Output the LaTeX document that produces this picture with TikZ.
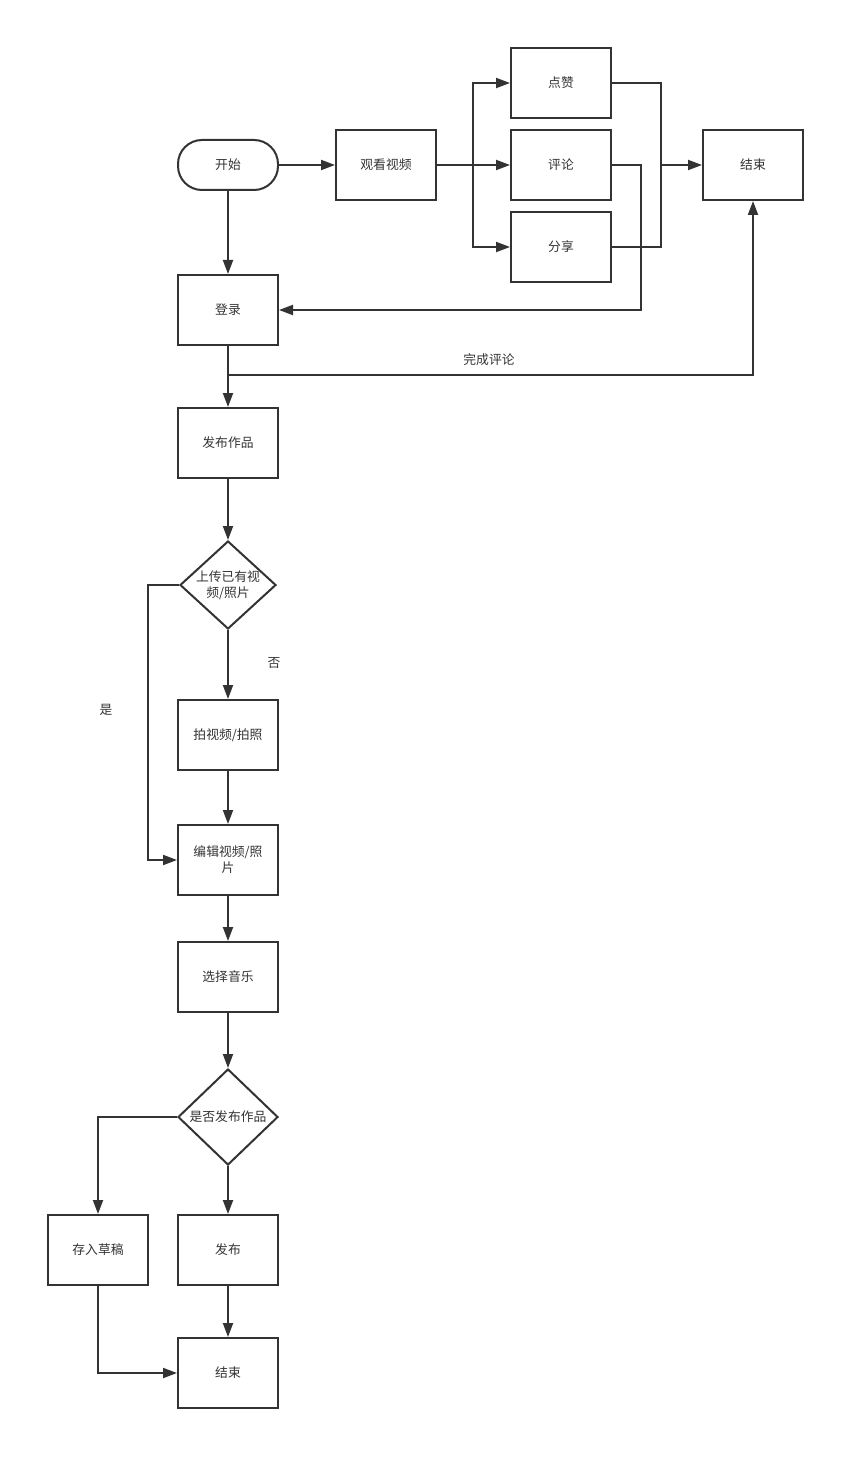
\documentclass[tikz,border=0pt]{standalone}
\usepackage{fontspec}
\setmainfont{Noto Sans CJK SC}
\usetikzlibrary{shapes.geometric,arrows.meta}
\definecolor{ink}{HTML}{333333}

\begin{document}
\begin{tikzpicture}[x=0.75pt,y=-0.75pt,>={Triangle[length=10.5pt,width=7.5pt]},
  color=ink,line width=1.5pt,
  every node/.style={font=\fontsize{9.6}{12}\selectfont,align=center},
  box/.style={draw,rectangle,minimum width=75pt,minimum height=52.5pt,inner sep=1pt},
  pill/.style={draw,rectangle,rounded corners=18pt,minimum width=75pt,minimum height=37.5pt},
  choice/.style={draw,diamond,inner sep=-3pt,aspect=1}]
  \useasboundingbox (0,0) rectangle (865,1469);

  % Noder
  \node[pill] (start) at (228,165) {开始};
  \node[box] (watch) at (386,165) {观看视频};
  \node[box] (like) at (561,83) {点赞};
  \node[box] (comment) at (561,165) {评论};
  \node[box] (share) at (561,247) {分享};
  \node[box] (end1) at (753,165) {结束};
  \node[box] (login) at (228,310) {登录};
  \node[box] (publish) at (228,443) {发布作品};
  \node[choice,minimum width=72pt,minimum height=66pt] (upload) at (228,585) {上传已有视\\频/照片};
  \node[box] (shoot) at (228,735) {拍视频/拍照};
  \node[box] (edit) at (228,860) {编辑视频/照\\片};
  \node[box] (music) at (228,977) {选择音乐};
  \node[choice,minimum width=75pt,minimum height=72pt] (ask) at (228,1117) {是否发布作品};
  \node[box] (draft) at (98,1250) {存入草稿};
  \node[box] (post) at (228,1250) {发布};
  \node[box] (end2) at (228,1373) {结束};

  % Hjelpepunkter
  \coordinate (fork) at (473,165);
  \coordinate (merge) at (661,165);
  \coordinate (back) at (641,310);
  \coordinate (done) at (228,375);
  \coordinate (yes) at (148,860);

  % Piler
  \draw[->] (start) -- (watch);
  \draw[->] (start) -- (login);
  \draw[->] (watch) -- (comment);
  \draw[->] (fork) |- (like);
  \draw[->] (fork) |- (share);
  \draw (like) -| (merge);
  \draw (share) -| (merge);
  \draw[->] (merge) -- (end1);
  \draw[->] (comment.east) -| (back) -- (login);
  \draw[->] (login) -- (publish);
  \draw[->] (done) -| (end1);
  \node (donelbl) at (489,360) {完成评论};
  \draw[->] (publish) -- (upload);
  \draw[->] (upload) -- (shoot);
  \node (nolbl) at (274,663) {否};
  \draw[->] (upload.west) -| (yes) -- (edit);
  \node (yeslbl) at (106,710) {是};
  \draw[->] (shoot) -- (edit);
  \draw[->] (edit) -- (music);
  \draw[->] (music) -- (ask);
  \draw[->] (ask.west) -| (draft);
  \draw[->] (ask) -- (post);
  \draw[->] (post) -- (end2);
  \draw[->] (draft) |- (end2);
\end{tikzpicture}
\end{document}
